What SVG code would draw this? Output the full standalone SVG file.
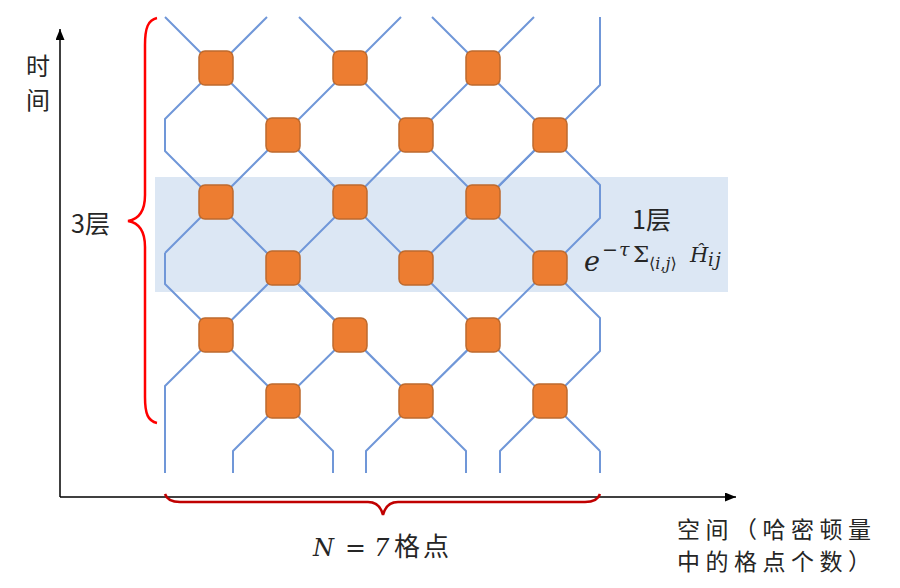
<svg xmlns="http://www.w3.org/2000/svg" width="900" height="588" viewBox="0 0 900 588">
<style>
.ln{fill:none;stroke:#7097d8;stroke-width:2;stroke-linejoin:round;stroke-linecap:butt}
.sq{fill:#ed7d31;stroke:#bd6a2e;stroke-width:1.5}
.ax{stroke:#000;stroke-width:1.5;fill:none}
.cjk{font-family:"Noto Sans CJK SC","Noto Sans",sans-serif;fill:#262626}
</style>
<defs>
<marker id="arr" markerUnits="userSpaceOnUse" markerWidth="12" markerHeight="10" refX="11" refY="4.5" orient="auto">
<path d="M0,0 L11,4.5 L0,9 Z" fill="#000"/>
</marker>
</defs>
<rect width="900" height="588" fill="#fff"/>
<g id="band"><rect x="155" y="177" width="573" height="115" fill="#dce7f4"/></g>
<g id="axes">
<line class="ax" x1="60" y1="497" x2="60" y2="29" marker-end="url(#arr)"/>
<line class="ax" x1="60" y1="497" x2="736" y2="497" marker-end="url(#arr)"/>
</g>
<g id="connectors">
<path class="ln" d="M165,17 L283,135 L350,68 L416,135 L483,68 L550,135 L600,85 L600,17"/>
<path class="ln" d="M267,17 L216,68"/>
<path class="ln" d="M299,17 L350,68 M401,17 L350,68 M432,17 L483,68 M534,17 L483,68"/>
<path class="ln" d="M216,68 L165,119 L165,151 L283,269 L350,202 L416,268 L483,202 L550,268 L600,218 L600,185 L550,135 L416,268 M283,135 L165,253 M283,135 L416,268"/>
<path class="ln" d="M165,253 L165,284 L283,401 L350,335 L416,401 L483,335 L550,401 L600,351 L600,318 L550,268 L416,401 M283,269 L165,386 L165,473 M283,269 L416,401"/>
<path class="ln" d="M600,451 L550,401 L500,451 L500,473 M600,451 L600,473"/>
<path class="ln" d="M283,401 L233,451 L233,473 M283,401 L333,451 L333,473 M416,401 L366,451 L366,473 M416,401 L466,451 L466,473"/>
<path class="ln" d="M350,202 L416,135 M350,202 L283,135 M483,202 L416,135 M483,202 L550,135 M350,335 L283,269 M483,335 L416,268"/>
</g>
<g id="squares">
<rect id="n-r1-c1" class="sq" x="199" y="51" width="34" height="34" rx="6"/>
<rect id="n-r1-c3" class="sq" x="333" y="51" width="34" height="34" rx="6"/>
<rect id="n-r1-c5" class="sq" x="466" y="51" width="34" height="34" rx="6"/>
<rect id="n-r2-c2" class="sq" x="266" y="118" width="34" height="34" rx="6"/>
<rect id="n-r2-c4" class="sq" x="399" y="118" width="34" height="34" rx="6"/>
<rect id="n-r2-c6" class="sq" x="533" y="118" width="34" height="34" rx="6"/>
<rect id="n-r3-c1" class="sq" x="199" y="185" width="34" height="34" rx="6"/>
<rect id="n-r3-c3" class="sq" x="333" y="185" width="34" height="34" rx="6"/>
<rect id="n-r3-c5" class="sq" x="466" y="185" width="34" height="34" rx="6"/>
<rect id="n-r4-c2" class="sq" x="266" y="251" width="34" height="34" rx="6"/>
<rect id="n-r4-c4" class="sq" x="399" y="251" width="34" height="34" rx="6"/>
<rect id="n-r4-c6" class="sq" x="533" y="251" width="34" height="34" rx="6"/>
<rect id="n-r5-c1" class="sq" x="199" y="318" width="34" height="34" rx="6"/>
<rect id="n-r5-c3" class="sq" x="333" y="318" width="34" height="34" rx="6"/>
<rect id="n-r5-c5" class="sq" x="466" y="318" width="34" height="34" rx="6"/>
<rect id="n-r6-c2" class="sq" x="266" y="384" width="34" height="34" rx="6"/>
<rect id="n-r6-c4" class="sq" x="399" y="384" width="34" height="34" rx="6"/>
<rect id="n-r6-c6" class="sq" x="533" y="384" width="34" height="34" rx="6"/>
</g>
<g id="brace-left">
<path d="M157,18 C148,20 145,28 145,45 L145,195 C145,210 140,219 128,221 C140,223 145,232 145,247 L145,397 C145,414 148,421 157,423" fill="none" stroke="#ff0000" stroke-width="2.5"/>
</g>
<g id="brace-bottom">
<path d="M165,494 C167,500 172,502 180,502 L368,502 C376,502 381,507 383,515 C385,507 390,502 398,502 L585,502 C593,502 598,500 600,494" fill="none" stroke="#c00000" stroke-width="2.5"/>
</g>
<g id="label-time">
<text class="cjk" x="38" y="75" font-size="24" text-anchor="middle">时</text>
<text class="cjk" x="38" y="109" font-size="24" text-anchor="middle">间</text>
</g>
<g id="label-3layers"><text class="cjk" x="71" y="233" font-size="25">3层</text></g>
<g id="label-1layer" fill="#262626">
<text class="cjk" x="632" y="229" font-size="25">1层</text>
<text font-family="DejaVu Serif, serif" font-style="italic" x="584" y="271" font-size="27">e</text>
<text font-family="DejaVu Serif, serif" x="602" y="256" font-size="19">−</text>
<text font-family="DejaVu Serif, serif" font-style="italic" x="619" y="256" font-size="19">τ</text>
<text font-family="DejaVu Serif, serif" x="633" y="262" font-size="23">Σ</text>
<text font-family="DejaVu Serif, serif" x="649" y="269" font-size="16">⟨<tspan font-style="italic">i</tspan>,<tspan font-style="italic">j</tspan>⟩</text>
<text font-family="DejaVu Serif, serif" font-style="italic" x="690" y="262" font-size="21">Ĥ</text>
<text font-family="DejaVu Serif, serif" font-style="italic" x="708" y="266" font-size="18" letter-spacing="1.5">ij</text>
</g>
<g id="label-N" fill="#262626">
<text font-family="DejaVu Serif, serif" font-style="italic" x="313" y="556" font-size="24">N</text>
<text font-family="DejaVu Serif, serif" x="345" y="556" font-size="25">=</text>
<text font-family="DejaVu Serif, serif" font-style="italic" x="374" y="556" font-size="24">7</text>
<text class="cjk" x="394" y="556" font-size="26" letter-spacing="3">格点</text>
</g>
<g id="label-space">
<text class="cjk" x="677" y="538" font-size="23" letter-spacing="5.5">空间（哈密顿量</text>
<text class="cjk" x="677" y="570" font-size="23" letter-spacing="5.5">中的格点个数）</text>
</g>
</svg>
